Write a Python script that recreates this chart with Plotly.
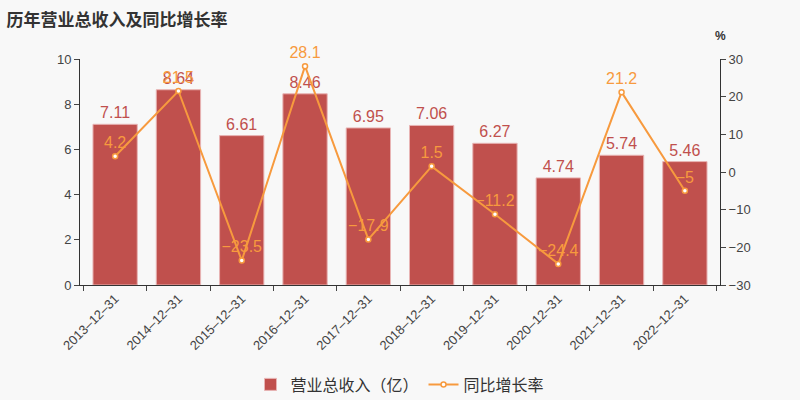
import plotly.graph_objects as go

categories = ["2013-12-31", "2014-12-31", "2015-12-31", "2016-12-31", "2017-12-31",
              "2018-12-31", "2019-12-31", "2020-12-31", "2021-12-31", "2022-12-31"]
revenue = [7.11, 8.64, 6.61, 8.46, 6.95, 7.06, 6.27, 4.74, 5.74, 5.46]
growth = [4.2, 21.5, -23.5, 28.1, -17.9, 1.5, -11.2, -24.4, 21.2, -5]

tick_labels = [c.replace("-", "\u2013") for c in categories]

FONT = "Liberation Sans, Arial, Noto Sans CJK SC, sans-serif"
BAR = "#c0504d"
LINE = "#f79a3e"

fig = go.Figure()
fig.add_trace(go.Bar(
    x=categories, y=revenue, name="营业总收入（亿）",
    marker=dict(color=BAR, line=dict(color="#e8b4b4", width=1)),
    width=0.7,
    text=revenue, texttemplate="%{y}", textposition="outside",
    textfont=dict(color=BAR, size=16, family=FONT),
    cliponaxis=False, hoverinfo="skip",
))
fig.add_trace(go.Scatter(
    x=categories, y=growth, name="同比增长率", yaxis="y2",
    mode="lines+markers+text",
    line=dict(color=LINE, width=2),
    marker=dict(size=5, color="white", line=dict(color=LINE, width=1.5)),
    text=growth, texttemplate="%{y}", textposition="top center",
    textfont=dict(color=LINE, size=16, family=FONT),
    cliponaxis=False, hoverinfo="skip",
))

fig.update_layout(
    width=800, height=400,
    paper_bgcolor="#f8f8f8", plot_bgcolor="#f8f8f8",
    margin=dict(l=80, r=80, t=59, b=115, autoexpand=False),
    font=dict(family=FONT, color="#333", size=13),
    title=dict(text="<b>历年营业总收入及同比增长率</b>", x=0.008, xanchor="left",
               y=0.965, yanchor="top",
               font=dict(size=17, color="#333", family="Noto Sans CJK SC, sans-serif")),
    bargap=0.3,
    showlegend=True,
    legend=dict(orientation="h", x=0.5, xanchor="center", y=-0.365, yanchor="top",
                font=dict(size=16, color="#333", family="Noto Sans CJK SC, sans-serif"),
                bgcolor="rgba(0,0,0,0)"),
    xaxis=dict(
        type="category", tickvals=categories, ticktext=tick_labels,
        tickangle=-45, tickson="boundaries", ticks="outside", ticklen=5,
        showline=True, linecolor="#333", linewidth=1, showgrid=False,
        tickfont=dict(size=13, color="#444"), automargin=False,
    ),
    yaxis=dict(
        range=[0, 10], dtick=2, showgrid=False, zeroline=False,
        showline=True, linecolor="#333", linewidth=1, ticks="outside", ticklen=5,
        tickfont=dict(size=13, color="#444"), automargin=False,
    ),
    yaxis2=dict(
        range=[-30, 30], dtick=10, overlaying="y", side="right",
        showgrid=False, zeroline=False,
        showline=True, linecolor="#333", linewidth=1, ticks="outside", ticklen=5,
        tickfont=dict(size=13, color="#444"), automargin=False,
    ),
    annotations=[dict(text="<b>%</b>", xref="paper", yref="paper", x=1.0, y=1.06,
                      xanchor="center", yanchor="bottom", showarrow=False,
                      font=dict(size=12, color="#333"))],
)

fig.write_html("out.html")
